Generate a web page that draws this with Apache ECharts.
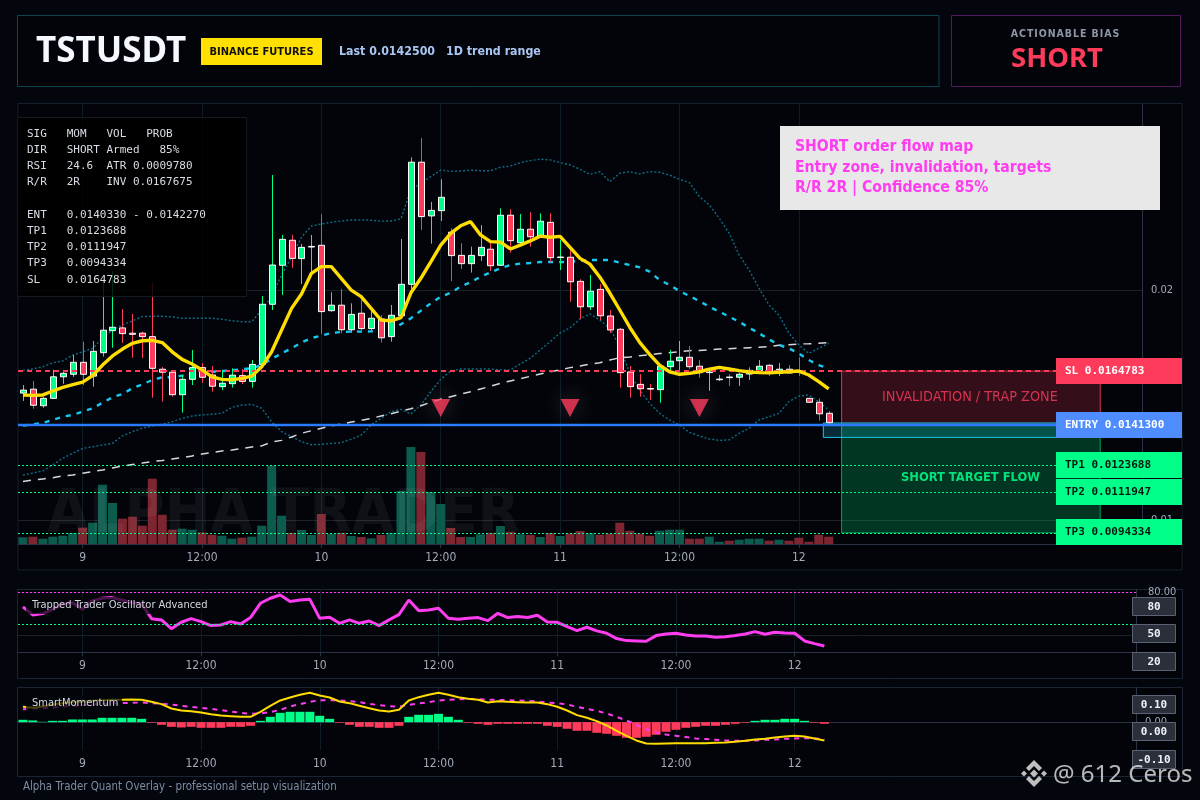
<!DOCTYPE html>
<html><head><meta charset="utf-8">
<style>html,body{margin:0;padding:0;background:#03060c;overflow:hidden}#c{width:1200px;height:800px}</style>
<script src="https://cdn.jsdelivr.net/npm/echarts@6/dist/echarts.min.js"></script>
</head><body><div id="c"></div>
<script>
// Prices are stored in units of 1e-5 USDT.
const opens=[1552,1569,1497,1529,1623,1634,1686,1626,1728,1824,
1836,1813,1813,1798,1656,1643,1545,1612,1663,1631,
1580,1593,1628,1603,1677,1939,2109,2218,2138,2189,
2196,1911,1935,1828,1900,1833,1875,1798,1889,2026,
2558,2324,2347,2253,2152,2116,2151,2179,2109,2327,
2207,2266,2233,2296,2143,2144,2039,1928,2004,1888,
1830,1644,1590,1572,1567,1667,1693,1708,1669,1642,
1611,1622,1621,1635,1650,1673,1638,1656,1648,1529,
1512,1464];
const closes=[1565,1499,1529,1623,1638,1686,1634,1734,1826,1839,
1811,1808,1798,1660,1643,1545,1612,1663,1621,1582,
1595,1630,1603,1677,1939,2110,2222,2139,2187,2191,
1907,1935,1828,1895,1833,1878,1793,1891,2026,2558,
2321,2348,2405,2151,2116,2152,2187,2107,2327,2216,
2266,2233,2301,2142,2145,2037,1928,1996,1889,1827,
1641,1580,1571,1570,1669,1691,1708,1667,1641,1644,
1613,1620,1634,1651,1669,1641,1656,1640,1644,1512,
1462,1423];
const highs=[1587,1605,1535,1653,1653,1718,1776,1779,2040,2084,
1918,1897,1820,2033,1666,1653,1631,1740,1682,1670,
1653,1660,1657,1696,1975,2502,2241,2241,2202,2241,
2332,1991,2006,1943,1958,1923,1892,1936,2223,2579,
2663,2385,2484,2270,2205,2190,2284,2207,2357,2353,
2332,2341,2335,2335,2219,2183,2048,2067,2027,1914,
1836,1670,1635,1592,1670,1740,1779,1757,1696,1657,
1631,1635,1641,1664,1696,1679,1683,1674,1708,1532,
1529,1474];
const lows=[1518,1484,1488,1526,1592,1623,1587,1580,1711,1750,
1770,1706,1705,1532,1515,1536,1467,1587,1597,1558,
1565,1576,1592,1576,1667,1914,1979,2098,2027,2077,
1809,1907,1813,1815,1815,1827,1772,1776,1885,2006,
2263,2203,2302,2040,2093,2077,2128,2084,2106,2164,
2205,2190,2233,2124,2088,1950,1874,1914,1870,1813,
1576,1532,1536,1522,1510,1641,1641,1656,1619,1562,
1605,1583,1583,1609,1648,1626,1626,1638,1626,1510,
1432,1409];
const volumes=[6.7,7.3,5.3,7.3,8.3,11,16.3,21.3,59.3,41,
25.3,27.3,18.3,65.3,29.3,14.3,15.3,14.3,11.7,9.3,
8.3,5.3,6.3,7.3,18.3,78.3,28.3,11.3,14,9,
30,10,11.3,8,7,5.7,9,11.3,53,97,
92,52,40,16,7,7,9.7,11.3,18,12.3,
9.7,9,7,11,8,10.7,13,10.7,9.3,10.3,
21.3,13.3,10.3,8.3,13.3,14.3,14.3,5.3,5.3,7.3,
2.3,3.3,4.3,5.3,5.3,3.3,4.3,3.3,6.3,2.3,
9.3,7.3];
const emaFast=[1544,1542,1544,1561,1577,1589,1600,1628,1674,1714,
1744,1769,1780,1782,1772,1732,1699,1679,1653,1623,
1612,1610,1616,1626,1667,1732,1827,1921,1984,2074,
2103,2103,2052,2001,1972,1921,1870,1867,1881,1989,
2052,2124,2197,2248,2281,2299,2241,2212,2210,2180,
2197,2215,2236,2231,2235,2187,2139,2114,2057,1988,
1914,1839,1773,1721,1674,1645,1634,1638,1645,1656,
1664,1657,1650,1644,1641,1640,1643,1645,1648,1631,
1602,1570];
const emaSlow=[1410,1416,1422,1435,1449,1457,1471,1486,1510,1534,
1548,1573,1590,1609,1621,1621,1628,1638,1641,1645,
1648,1651,1656,1660,1674,1701,1725,1747,1773,1792,
1802,1814,1818,1820,1820,1821,1823,1824,1852,1878,
1911,1943,1972,1989,2016,2035,2059,2078,2096,2110,
2116,2119,2123,2123,2123,2124,2129,2132,2132,2132,
2120,2110,2100,2081,2045,2023,1997,1975,1953,1928,
1907,1885,1863,1837,1813,1786,1762,1747,1725,1696,
1674,1660];
const smaLong=[1167,1173,1178,1183,1191,1195,1203,1210,1217,1226,
1234,1241,1247,1254,1258,1265,1271,1278,1287,1293,
1300,1304,1311,1317,1322,1339,1346,1361,1377,1388,
1399,1409,1417,1426,1433,1442,1452,1462,1473,1484,
1497,1512,1525,1536,1547,1558,1570,1582,1595,1605,
1615,1625,1635,1645,1653,1663,1670,1679,1684,1696,
1706,1709,1715,1719,1724,1728,1732,1737,1738,1741,
1744,1745,1748,1750,1752,1754,1760,1763,1766,1767,
1769,1772];
const bandUpper=[1651,1657,1667,1684,1692,1718,1732,1747,1791,1827,
1849,1867,1885,1887,1887,1884,1878,1878,1878,1878,
1874,1867,1863,1863,1914,1972,2067,2145,2232,2280,
2289,2296,2302,2306,2307,2305,2301,2302,2311,2437,
2466,2495,2524,2518,2520,2524,2521,2521,2536,2541,
2556,2565,2571,2568,2556,2546,2527,2505,2517,2473,
2510,2517,2507,2517,2514,2502,2484,2469,2408,2372,
2314,2248,2154,2088,2009,1936,1892,1813,1762,1725,
1747,1769];
const bandLower=[1195,1204,1213,1239,1268,1290,1311,1318,1326,1333,
1366,1384,1399,1409,1416,1427,1442,1452,1457,1460,
1464,1490,1500,1503,1486,1427,1384,1362,1340,1327,
1329,1333,1336,1351,1369,1413,1442,1471,1481,1461,
1500,1558,1612,1648,1657,1657,1657,1657,1653,1653,
1679,1704,1740,1776,1814,1837,1875,1897,1870,1834,
1754,1638,1565,1508,1464,1435,1413,1381,1365,1352,
1346,1348,1377,1399,1435,1449,1464,1515,1539,1544,
1515,1478];
const oscillator=[66.3,58.8,60,64,69.1,70.3,64,72.2,74.4,75,
72.8,70.3,69.1,55.3,54.1,45.9,51.9,55.3,52.5,48.8,
49.4,52.5,50.3,56.3,69.7,74.4,77.5,71.3,72.8,73.4,
55.6,56.6,50.9,54.1,50.9,53.1,48.8,54.1,59.1,72.8,
62.8,63.4,65,55.6,54.7,55.6,56.3,53.4,60.3,56.3,
57.2,56.3,58.4,52.2,51.9,47.8,44.1,47.2,43.8,41.6,
36.6,34.7,34.4,34.1,39.4,40.9,41.6,40,39.1,39.1,
37.8,38.4,39.4,40.9,43.1,40.6,42.5,41.9,41.6,34.4,
31.9,29.7];
const momentumHist=[.0085,.0061,.0012,.0048,.0048,.0097,.0097,.0097,.0158,.0158,
.0158,.0158,.0121,-.0024,-.0097,-.017,-.0194,-.017,-.0206,-.0206,
-.0206,-.017,-.017,-.0133,.0048,.0194,.0339,.0376,.0376,.0376,
.023,.0121,-.0024,-.0097,-.017,-.017,-.0206,-.0206,-.0133,.0194,
.0267,.0267,.0303,.0194,.0085,-.0024,-.0061,-.0097,-.0061,-.0061,
-.0061,-.0061,-.0061,-.0133,-.017,-.0242,-.0315,-.0315,-.0388,-.0424,
-.0497,-.057,-.057,-.0533,-.0461,-.0352,-.0279,-.0206,-.017,-.0133,
-.0133,-.0097,-.0061,-.0024,.0048,.0085,.0085,.0121,.0121,.0048,
-.0024,-.0061];
const momentumLine=[.0558,.0521,.057,.0642,.0691,.0727,.0752,.0776,.08,.0812,
.0812,.0824,.0812,.0739,.0655,.0497,.0424,.04,.0352,.0291,
.0242,.0218,.0194,.0194,.0376,.0594,.0788,.0897,.0994,.1067,
.097,.0897,.0752,.0691,.0594,.0509,.0424,.0388,.0448,.0788,
.0909,.0994,.1067,.0994,.0909,.0848,.0812,.0715,.0764,.0739,
.0727,.0715,.0715,.0655,.0558,.0424,.0255,.0158,.0036,-.0121,
-.0315,-.0497,-.0667,-.0776,-.0788,-.0776,-.0764,-.0764,-.0764,-.0764,
-.0752,-.0739,-.0715,-.0679,-.063,-.0606,-.0558,-.0521,-.0497,-.0521,
-.0594,-.0667];
const momentumSignal=[.0473,.0485,.0509,.0533,.057,.0594,.0618,.0642,.0667,.0679,
.0691,.0703,.0715,.0691,.0667,.0642,.0594,.0558,.0521,.0485,
.0436,.0388,.0339,.0303,.0315,.0364,.0448,.057,.0655,.0739,
.08,.08,.0788,.0764,.0727,.0667,.0618,.0582,.0558,.063,
.0679,.0727,.0788,.0812,.0836,.0848,.0836,.0812,.0812,.08,
.0788,.0776,.0752,.0715,.0691,.0642,.0558,.0485,.0412,.0315,
.0194,.0061,-.0097,-.0255,-.0376,-.0448,-.0497,-.0545,-.0594,-.0618,
-.0642,-.0667,-.0679,-.0679,-.0667,-.0642,-.063,-.0606,-.0594,-.0582,
-.0594,-.0618];
const signalBars=[42,55,68];
const signalPrice=1487;
const levelSL=0.0164783, levelEntry=0.01413, levelTP1=0.0123688, levelTP2=0.0111947, levelTP3=0.0094334;
const entryZoneTop=0.014217, entryZoneBottom=0.01359;
const tickLabels={6:'9',18:'12:00',30:'10',42:'12:00',54:'11',66:'12:00',78:'12'};
const BANDS=113;
const categories=Array.from({length:BANDS},(_,i)=>tickLabels[i]||'');
const P=v=>v*1e-5;
const price=a=>a.map(P);

const GREEN='#00ff88',RED='#ff3b5c';
const UI='"DejaVu Sans Condensed","DejaVu Sans",sans-serif';
const NOTO='"Noto Sans",sans-serif';
const MONO='"DejaVu Sans Mono",monospace';
const isTick=i=>tickLabels[i]!==undefined;
const axisCol='#2b3444', gridCol='#0e1c26', labelCol='#a3abb8';

function xAxis(g){return {type:'category',gridIndex:g,data:categories,boundaryGap:true,
  axisLine:{show:true,lineStyle:{color:axisCol,width:1.2}},
  axisTick:{show:true,alignWithLabel:true,interval:i=>isTick(i),length:4,lineStyle:{color:axisCol}},
  axisLabel:{show:true,interval:0,color:labelCol,fontFamily:UI,fontSize:12,margin:8,hideOverlap:false},
  splitLine:{show:true,alignWithLabel:true,interval:i=>isTick(i),lineStyle:{color:gridCol,width:1}}};}
function yAxis(g,min,max,vals,dec,extra){return Object.assign({type:'value',gridIndex:g,position:'right',min,max,scale:true,
  axisLine:{show:true,lineStyle:{color:axisCol,width:1}},
  axisTick:{show:false,customValues:vals},
  axisLabel:{show:true,customValues:vals,color:labelCol,fontFamily:UI,fontSize:11,margin:9,formatter:v=>(+v).toFixed(dec)},
  splitLine:{show:true,lineStyle:{color:'#1a2129',width:1}}},extra||{});}

function lineS(name,data,color,width,dash,xi,yi,z){return {name,type:'line',xAxisIndex:xi,yAxisIndex:yi,data,z:z||3,
  showSymbol:false,symbol:'none',silent:true,lineStyle:{color,width,type:dash||'solid'},animation:false,connectNulls:false};}

function renderCandle(params,api){
  const i=api.value(0),o=api.value(1),c=api.value(2),l=api.value(3),h=api.value(4);
  const up=c>=o,col=up?GREEN:RED;
  const x=Math.round(api.coord([i,o])[0])+.5;
  const yH=api.coord([i,h])[1],yL=api.coord([i,l])[1];
  const yO=api.coord([i,o])[1],yC=api.coord([i,c])[1];
  const top=Math.min(yO,yC),bot=Math.max(yO,yC);
  return {type:'group',children:[
    {type:'line',shape:{x1:x,y1:yH,x2:x,y2:yL},style:{stroke:col,lineWidth:1}},
    {type:'rect',shape:{x:x-3,y:top,width:6,height:Math.max(bot-top,.6)},style:{fill:col,stroke:'#fff',lineWidth:1}}
  ]};
}
const zoneData=[
 [82.3,108.3,levelSL,levelEntry,'rgba(255,59,92,0.20)','rgba(255,59,92,0.85)'],
 [82.3,108.3,levelEntry,levelTP3,'rgba(0,255,136,0.20)','rgba(0,255,136,0.6)'],
 [80.46,108.3,entryZoneTop,entryZoneBottom,'rgba(30,200,240,0.20)','#18c5e8']
];
function xAt(api,v){const f=Math.floor(v),a=api.coord([f,levelSL])[0],b=api.coord([f+1,levelSL])[0];return a+(v-f)*(b-a);}
function renderZone(params,api){
  const d=zoneData[params.dataIndex];
  const x0=xAt(api,d[0]),x1=xAt(api,d[1]);
  const y0=api.coord([82,d[2]])[1],y1=api.coord([82,d[3]])[1];
  return {type:'rect',shape:{x:x0,y:y0,width:x1-x0,height:y1-y0},style:{fill:d[4],stroke:d[5],lineWidth:1}};
}

const candleData=opens.map((o,i)=>[i,P(o),P(closes[i]),P(lows[i]),P(highs[i])]);
const series=[
 {type:'custom',name:'zones',xAxisIndex:0,yAxisIndex:0,z:1,silent:true,clip:true,renderItem:renderZone,
  data:zoneData.map(d=>[Math.floor(d[0]),d[2]]),encode:{x:0,y:1}},
 {type:'bar',name:'volume',xAxisIndex:0,yAxisIndex:1,barWidth:9,z:1,silent:true,
  data:volumes.map((v,i)=>({value:v,itemStyle:{color:closes[i]>=opens[i]?'#0c5c4e':'#7d2530'}}))},
 lineS('upper',price(bandUpper),'#0f6d84',1.4,[2,2],0,0),
 lineS('lower',price(bandLower),'#0f6d84',1.4,[2,2],0,0),
 lineS('long',price(smaLong),'#d5d8dc',1.5,[8,7],0,0),
 lineS('slow',price(emaSlow),'#19c8f0',2.4,[5,6],0,0),
 {type:'custom',name:'candles',xAxisIndex:0,yAxisIndex:0,z:4,silent:true,renderItem:renderCandle,
  data:candleData,encode:{x:0,y:[1,2,3,4]}},
 Object.assign(lineS('fast',price(emaFast),'#ffdd00',3.4,'solid',0,0,5),{
  markLine:{silent:true,symbol:'none',precision:8,label:{show:false},animation:false,data:[
   {yAxis:levelSL,lineStyle:{color:RED,width:2,type:[5,4]}},
   {yAxis:levelEntry,lineStyle:{color:'#2a7bff',width:2.4,type:'solid'}},
   {yAxis:levelTP1,lineStyle:{color:GREEN,width:1,type:[2,2]}},
   {yAxis:levelTP2,lineStyle:{color:GREEN,width:1,type:[2,2]}},
   {yAxis:levelTP3,lineStyle:{color:GREEN,width:1,type:[2,2]}}]}}),
 {type:'scatter',name:'signals',xAxisIndex:0,yAxisIndex:0,z:6,silent:true,symbol:'triangle',symbolRotate:180,symbolSize:[19,18],
  itemStyle:{color:RED,shadowBlur:22,shadowColor:'rgba(255,255,255,0.35)'},
  data:signalBars.map(i=>[i,P(signalPrice)])},
 Object.assign(lineS('osc',oscillator,'#ff3df0',3,'solid',1,2),{
  markLine:{silent:true,symbol:'none',precision:4,label:{show:false},animation:false,data:[
   {yAxis:80,lineStyle:{color:'#ff3df0',width:1,type:[2,2]}},
   {yAxis:50,lineStyle:{color:GREEN,width:1,type:[2,2]}}]}}),
 {type:'bar',name:'hist',xAxisIndex:2,yAxisIndex:3,barWidth:9,silent:true,z:2,
  data:momentumHist.map(v=>({value:v,itemStyle:{color:v>=0?GREEN:RED}}))},
 lineS('signal',momentumSignal,'#ff3df0',2,[5,5],2,3,3),
 lineS('mom',momentumLine,'#ffdd00',2,'solid',2,3,4)
];

function T(text,x,y,fill,font,extra,z){return {type:'text',z:z||60,silent:true,style:Object.assign({text,x,y,fill,font,textVerticalAlign:'middle',textAlign:'left'},extra||{})};}
function R(x,y,w,h,style,z){return {type:'rect',z:z===undefined?50:z,silent:true,shape:{x,y,width:w,height:h},style};}
function tag(text,y,bg,fg){return [R(1056,y,126,26,{fill:bg},55),T(text,1065,y+13.5,fg,'bold 11px '+MONO)];}
function box(text,y){return [R(1132.5,y,43,18,{fill:'#2a2f3a',stroke:'#5a6375',lineWidth:1},55),T(text,1154,y+9.5,'#eef1f5','bold 11px '+MONO,{textAlign:'center'})];}

const tableLines=[['SIG   MOM   VOL   PROB',134],['DIR   SHORT Armed   85%',150],['RSI   24.6  ATR 0.0009780',166],['R/R   2R    INV 0.0167675',182.5],
 ['ENT   0.0140330 - 0.0142270',215],['TP1   0.0123688',231],['TP2   0.0111947',247],['TP3   0.0094334',263.5],['SL    0.0164783',280]];

const elements=[
 R(17.5,15.5,921.5,71,{fill:'#02040a',stroke:'#0d4450',lineWidth:1},0),
 R(951.5,15.5,229,71,{fill:'#02040a',stroke:'#54185f',lineWidth:1},0),
 R(18,103.5,1164,466.5,{fill:'#02040a',stroke:'#141e2c',lineWidth:1},0),
 R(17.5,589.5,1165,89,{fill:'#02040a',stroke:'#1a2433',lineWidth:1},0),
 R(17.5,687.5,1165,89,{fill:'#02040a',stroke:'#1a2433',lineWidth:1},0),
 T('ALPHA TRADER',47,516,'rgba(255,255,255,0.055)','bold 61px '+UI,{},0),
 T('TSTUSDT',36,52,'#f4f8ff','bold 35px '+NOTO,{shadowBlur:16,shadowColor:'rgba(0,229,255,0.45)'}),
 R(201,38,121,27,{fill:'#ffe000'}),
 T('BINANCE FUTURES',261.5,52,'#111','bold 11px '+UI,{textAlign:'center'}),
 T('Last 0.0142500',339,52,'#a9c6f2','bold 12.3px '+UI),
 T('1D trend range',446,52,'#a9c6f2','bold 12.3px '+UI),
 T('A\u200AC\u200AT\u200AI\u200AO\u200AN\u200AA\u200AB\u200AL\u200AE\u200A \u200AB\u200AI\u200AA\u200AS',1065,34,'#8f97a6','bold 10.5px '+UI,{textAlign:'center'}),
 T('SHORT',1057,59,RED,'bold 27.5px '+NOTO,{textAlign:'center',shadowBlur:14,shadowColor:'rgba(255,59,92,0.6)'}),
 R(17.5,117.5,229,179,{fill:'rgba(0,0,0,0.84)',stroke:'#141a22',lineWidth:1},50),
 ...tableLines.map(l=>T(l[0],27,l[1],'#d9dde3','11px '+MONO)),
 R(780,126,380,84,{fill:'rgba(240,240,240,0.97)'},50),
 T('SHORT order flow map',795,147,'#ff3df0','bold 15.6px '+UI),
 T('Entry zone, invalidation, targets',795,168,'#ff3df0','bold 15.6px '+UI),
 T('R/R 2R | Confidence 85%',795,188,'#ff3df0','bold 15.6px '+UI),
 T('INVALIDATION / TRAP ZONE',882,397,'#d8324f','14.3px '+UI),
 T('SHORT TARGET FLOW',901,478,'#00e37a','bold 12.8px '+UI),
 ...tag('SL 0.0164783',358,RED,'#fff'),
 ...tag('ENTRY 0.0141300',412,'#4f8dff','#fff'),
 ...tag('TP1 0.0123688',452,GREEN,'#031a10'),
 ...tag('TP2 0.0111947',479,GREEN,'#031a10'),
 ...tag('TP3 0.0094334',519,GREEN,'#031a10'),
 R(26,597,195,17,{fill:'rgba(2,4,10,0.72)'},50),
 T('Trapped Trader Oscillator Advanced',32,605.5,'#d5d8de','11px '+UI),
 R(26,695,96,17,{fill:'rgba(2,4,10,0.72)'},50),
 T('SmartMomentum',32,703.5,'#d5d8de','11px '+UI),
 ...box('80',597.5),...box('50',624.5),...box('20',652.5),
 ...box('0.10',695.5),...box('0.00',722.5),...box('-0.10',750.5),
 T('Alpha Trader Quant Overlay - professional setup visualization',23,787,'#7f8ca0','11.4px '+UI),
 ...[[1034,773.5,4],[1024,773.5,3],[1044,773.5,3]].map(d=>({type:'polygon',z:70,silent:true,shape:{points:[[d[0]-d[2],d[1]],[d[0],d[1]-d[2]],[d[0]+d[2],d[1]],[d[0],d[1]+d[2]]]},style:{fill:'rgba(225,225,225,0.85)'}})),
 {type:'polygon',z:70,silent:true,shape:{points:[[1034,760],[1042,768],[1039,771],[1034,766],[1029,771],[1026,768]]},style:{fill:'rgba(225,225,225,0.85)'}},
 {type:'polygon',z:70,silent:true,shape:{points:[[1034,787],[1042,779],[1039,776],[1034,781],[1029,776],[1026,779]]},style:{fill:'rgba(225,225,225,0.85)'}},
 T('@ 612 Ceros',1053,775,'rgba(225,225,225,0.82)','24px '+NOTO,{},70)
];

const chart=echarts.init(document.getElementById('c'),null,{renderer:'canvas',width:1200,height:800});
chart.setOption({
 animation:false,backgroundColor:'#03060c',
 grid:[
  {left:18,top:104,width:1124,height:440,containLabel:false},
  {left:18,top:589.3,width:1118,height:63,containLabel:false},
  {left:18,top:687.3,width:1118,height:63,containLabel:false}],
 xAxis:[xAxis(0),xAxis(1),xAxis(2)],
 yAxis:[
  yAxis(0,0.008945,0.028116,[0.01,0.02],2),
  {type:'value',gridIndex:0,min:0,max:440,show:false,splitLine:{show:false}},
  yAxis(1,23.75,82.8,[40,80],2,{axisLabel:{show:true,customValues:[80],color:labelCol,fontFamily:UI,fontSize:11,margin:12,formatter:v=>(+v).toFixed(2)}}),
  yAxis(2,-0.1025,0.1268,[0],2)
 ],
 graphic:{elements},
 series
});
</script></body></html>
